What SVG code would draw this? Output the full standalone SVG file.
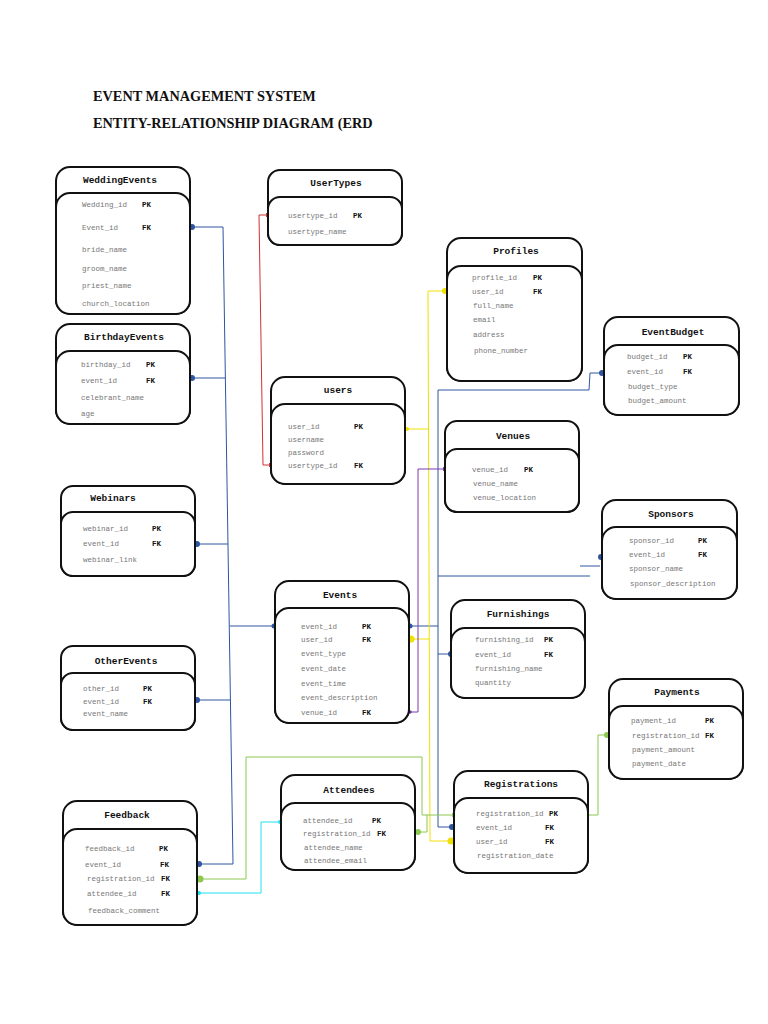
<svg xmlns="http://www.w3.org/2000/svg" width="768" height="1024" viewBox="0 0 768 1024">
<style>
.box{fill:#fff;stroke:#111;stroke-width:2}
.t{font-family:"Liberation Mono",monospace;font-size:9.5px;font-weight:bold;fill:#111;text-anchor:middle}
.f{font-family:"Liberation Mono",monospace;font-size:7.5px;fill:#777}
.k{font-family:"Liberation Mono",monospace;font-size:7.5px;font-weight:bold;fill:#111}
.h{font-family:"Liberation Serif",serif;font-size:14.3px;font-weight:bold;fill:#111}
.c{fill:none;stroke-width:1}
</style>
<rect width="768" height="1024" fill="#fff"/>
<text class="h" x="93" y="101">EVENT MANAGEMENT SYSTEM</text>
<text class="h" x="93" y="128">ENTITY-RELATIONSHIP DIAGRAM (ERD</text>

<g id="connectors">
<g stroke="#2f55a0" class="c">
<polyline class="c" stroke="#2f55a0" points="190,227 223,227 233,864 197,864"/>
<line x1="190" y1="378" x2="225" y2="378"/>
<line x1="195" y1="544" x2="228" y2="544"/>
<line x1="195" y1="700" x2="230" y2="700"/>
<line x1="230" y1="626" x2="275" y2="626"/>
<polyline class="c" stroke="#2f55a0" points="409,626 438,626"/>
<polyline class="c" stroke="#2f55a0" points="604,373 590,373 589,390 438,390 438,827 454,827"/>
<line x1="438" y1="576" x2="590" y2="576"/>
<line x1="580" y1="566" x2="600" y2="566"/>
<line x1="438" y1="654" x2="451" y2="654"/>
</g>
<polyline class="c" stroke="#d03030" points="268,215 259,215 263,465 271,465"/>
<g stroke="#f0e000" class="c">
<polyline class="c" stroke="#f0e000" points="447,291 428,291 430,841 454,841"/>
<line x1="405" y1="429" x2="428" y2="429"/>
<line x1="409" y1="639" x2="429" y2="639"/>
</g>
<polyline class="c" stroke="#7a3ab0" points="445,469 418,469 418,712 409,712"/>
<g stroke="#8cc850" class="c">
<polyline class="c" stroke="#8cc850" points="197,879 246,879 246,757 422,757 422,815 454,815"/>
<polyline class="c" stroke="#8cc850" points="415,832 427,832 427,815"/>
<polyline class="c" stroke="#8cc850" points="588,815 598,815 598,735 609,735"/>
</g>
<polyline class="c" stroke="#20e0f0" points="197,893 261,893 261,822 281,822"/>
<g fill="#2f55a0">
<circle cx="192" cy="227" r="3"/><circle cx="192" cy="378" r="3"/><circle cx="197" cy="544" r="3"/>
<circle cx="197" cy="700" r="3"/><circle cx="199" cy="864" r="3"/><circle cx="274" cy="626" r="2.5"/>
<circle cx="410" cy="626" r="2.5"/><circle cx="602" cy="373" r="3"/><circle cx="601" cy="557" r="3"/>
<circle cx="451" cy="654" r="3"/><circle cx="452" cy="827" r="3"/>
</g>
<g fill="#d03030"><rect x="266" y="213" width="2" height="4"/><rect x="269" y="463" width="2" height="4"/></g>
<g fill="#f0e000"><circle cx="445" cy="291" r="3"/><circle cx="407" cy="429" r="2"/><circle cx="411" cy="639" r="3.5"/><circle cx="451" cy="841" r="3.5"/></g>
<g fill="#7a3ab0"><rect x="443" y="467" width="2" height="4"/><circle cx="410" cy="712" r="1.8"/></g>
<g fill="#8cc850"><circle cx="200" cy="879" r="3.5"/><circle cx="418" cy="832" r="3"/><circle cx="607" cy="735" r="3"/><rect x="452" y="813" width="2" height="4"/></g>
<g fill="#20e0f0"><circle cx="199" cy="893" r="2"/><circle cx="280" cy="822" r="2"/></g>
</g>

<g id="WeddingEvents">
<rect class="box" x="56" y="167" width="134" height="147" rx="14"/>
<rect class="box" x="56" y="193" width="134" height="121" rx="14"/>
<text class="t" x="120" y="183">WeddingEvents</text>
<text class="f" x="82" y="207">Wedding_id</text><text class="k" x="142" y="207">PK</text>
<text class="f" x="82" y="230">Event_id</text><text class="k" x="142" y="230">FK</text>
<text class="f" x="82" y="252">bride_name</text>
<text class="f" x="82" y="271">groom_name</text>
<text class="f" x="82" y="288">priest_name</text>
<text class="f" x="82" y="306">church_location</text>
</g>
<g id="BirthdayEvents">
<rect class="box" x="56" y="324" width="134" height="100" rx="14"/>
<rect class="box" x="56" y="351" width="134" height="73" rx="14"/>
<text class="t" x="124" y="340">BirthdayEvents</text>
<text class="f" x="81" y="367">birthday_id</text><text class="k" x="146" y="367">PK</text>
<text class="f" x="81" y="383">event_id</text><text class="k" x="146" y="383">FK</text>
<text class="f" x="81" y="400">celebrant_name</text>
<text class="f" x="81" y="416">age</text>
</g>
<g id="Webinars">
<rect class="box" x="61" y="486" width="134" height="90" rx="12"/>
<rect class="box" x="61" y="512" width="134" height="64" rx="12"/>
<text class="t" x="113" y="501">Webinars</text>
<text class="f" x="83" y="531">webinar_id</text><text class="k" x="152" y="531">PK</text>
<text class="f" x="83" y="546">event_id</text><text class="k" x="152" y="546">FK</text>
<text class="f" x="83" y="562">webinar_link</text>
</g>
<g id="OtherEvents">
<rect class="box" x="61" y="646" width="134" height="84" rx="12"/>
<rect class="box" x="61" y="673" width="134" height="57" rx="12"/>
<text class="t" x="126" y="664">OtherEvents</text>
<text class="f" x="83" y="691">other_id</text><text class="k" x="143" y="691">PK</text>
<text class="f" x="83" y="704">event_id</text><text class="k" x="143" y="704">FK</text>
<text class="f" x="83" y="716">event_name</text>
</g>
<g id="Feedback">
<rect class="box" x="63" y="801" width="134" height="124" rx="14"/>
<rect class="box" x="63" y="829" width="134" height="96" rx="14"/>
<text class="t" x="127" y="818">Feedback</text>
<text class="f" x="85" y="851">feedback_id</text><text class="k" x="159" y="851">PK</text>
<text class="f" x="85" y="867">event_id</text><text class="k" x="160" y="867">FK</text>
<text class="f" x="87" y="881">registration_id</text><text class="k" x="161" y="881">FK</text>
<text class="f" x="87" y="896">attendee_id</text><text class="k" x="161" y="896">FK</text>
<text class="f" x="88" y="913">feedback_comment</text>
</g>
<g id="UserTypes">
<rect class="box" x="268" y="170" width="134" height="75" rx="12"/>
<rect class="box" x="268" y="197" width="134" height="48" rx="12"/>
<text class="t" x="336" y="186">UserTypes</text>
<text class="f" x="288" y="218">usertype_id</text><text class="k" x="353" y="218">PK</text>
<text class="f" x="288" y="234">usertype_name</text>
</g>
<g id="users">
<rect class="box" x="271" y="377" width="134" height="107" rx="14"/>
<rect class="box" x="271" y="404" width="134" height="80" rx="14"/>
<text class="t" x="338" y="393">users</text>
<text class="f" x="288" y="429">user_id</text><text class="k" x="354" y="429">PK</text>
<text class="f" x="288" y="442">username</text>
<text class="f" x="288" y="455">password</text>
<text class="f" x="288" y="468">usertype_id</text><text class="k" x="354" y="468">FK</text>
</g>
<g id="Events">
<rect class="box" x="275" y="581" width="134" height="142" rx="14"/>
<rect class="box" x="275" y="608" width="134" height="115" rx="14"/>
<text class="t" x="340" y="598">Events</text>
<text class="f" x="301" y="629">event_id</text><text class="k" x="362" y="629">PK</text>
<text class="f" x="301" y="642">user_id</text><text class="k" x="362" y="642">FK</text>
<text class="f" x="301" y="656">event_type</text>
<text class="f" x="301" y="671">event_date</text>
<text class="f" x="301" y="686">event_time</text>
<text class="f" x="301" y="700">event_description</text>
<text class="f" x="301" y="715">venue_id</text><text class="k" x="362" y="715">FK</text>
</g>
<g id="Attendees">
<rect class="box" x="281" y="775" width="134" height="95" rx="14"/>
<rect class="box" x="281" y="803" width="134" height="67" rx="14"/>
<text class="t" x="349" y="793">Attendees</text>
<text class="f" x="303" y="823">attendee_id</text><text class="k" x="372" y="823">PK</text>
<text class="f" x="303" y="836">registration_id</text><text class="k" x="377" y="836">FK</text>
<text class="f" x="304" y="850">attendee_name</text>
<text class="f" x="304" y="863">attendee_email</text>
</g>
<g id="Profiles">
<rect class="box" x="447" y="238" width="135" height="143" rx="14"/>
<rect class="box" x="447" y="266" width="135" height="115" rx="14"/>
<text class="t" x="516" y="254">Profiles</text>
<text class="f" x="472" y="280">profile_id</text><text class="k" x="533" y="280">PK</text>
<text class="f" x="472" y="294">user_id</text><text class="k" x="533" y="294">FK</text>
<text class="f" x="473" y="308">full_name</text>
<text class="f" x="473" y="322">email</text>
<text class="f" x="473" y="337">address</text>
<text class="f" x="474" y="353">phone_number</text>
</g>
<g id="EventBudget">
<rect class="box" x="604" y="317" width="135" height="98" rx="14"/>
<rect class="box" x="604" y="345" width="135" height="70" rx="14"/>
<text class="t" x="673" y="335">EventBudget</text>
<text class="f" x="627" y="359">budget_id</text><text class="k" x="683" y="359">PK</text>
<text class="f" x="627" y="374">event_id</text><text class="k" x="683" y="374">FK</text>
<text class="f" x="628" y="389">budget_type</text>
<text class="f" x="628" y="403">budget_amount</text>
</g>
<g id="Venues">
<rect class="box" x="445" y="421" width="134" height="91" rx="12"/>
<rect class="box" x="445" y="449" width="134" height="63" rx="12"/>
<text class="t" x="513" y="439">Venues</text>
<text class="f" x="472" y="472">venue_id</text><text class="k" x="524" y="472">PK</text>
<text class="f" x="473" y="486">venue_name</text>
<text class="f" x="473" y="500">venue_location</text>
</g>
<g id="Sponsors">
<rect class="box" x="602" y="500" width="135" height="99" rx="14"/>
<rect class="box" x="602" y="527" width="135" height="72" rx="14"/>
<text class="t" x="671" y="517">Sponsors</text>
<text class="f" x="629" y="543">sponsor_id</text><text class="k" x="698" y="543">PK</text>
<text class="f" x="629" y="557">event_id</text><text class="k" x="698" y="557">FK</text>
<text class="f" x="629" y="571">sponsor_name</text>
<text class="f" x="630" y="586">sponsor_description</text>
</g>
<g id="Furnishings">
<rect class="box" x="451" y="600" width="134" height="98" rx="14"/>
<rect class="box" x="451" y="628" width="134" height="70" rx="14"/>
<text class="t" x="518" y="617">Furnishings</text>
<text class="f" x="475" y="642">furnishing_id</text><text class="k" x="544" y="642">PK</text>
<text class="f" x="475" y="657">event_id</text><text class="k" x="544" y="657">FK</text>
<text class="f" x="475" y="671">furnishing_name</text>
<text class="f" x="475" y="685">quantity</text>
</g>
<g id="Payments">
<rect class="box" x="609" y="679" width="134" height="100" rx="14"/>
<rect class="box" x="609" y="706" width="134" height="73" rx="14"/>
<text class="t" x="677" y="695">Payments</text>
<text class="f" x="631" y="723">payment_id</text><text class="k" x="705" y="723">PK</text>
<text class="f" x="632" y="738">registration_id</text><text class="k" x="705" y="738">FK</text>
<text class="f" x="632" y="752">payment_amount</text>
<text class="f" x="632" y="766">payment_date</text>
</g>
<g id="Registrations">
<rect class="box" x="454" y="771" width="134" height="102" rx="14"/>
<rect class="box" x="454" y="798" width="134" height="75" rx="14"/>
<text class="t" x="521" y="787">Registrations</text>
<text class="f" x="476" y="816">registration_id</text><text class="k" x="549" y="816">PK</text>
<text class="f" x="476" y="830">event_id</text><text class="k" x="545" y="830">FK</text>
<text class="f" x="476" y="844">user_id</text><text class="k" x="545" y="844">FK</text>
<text class="f" x="477" y="858">registration_date</text>
</g>
</svg>
